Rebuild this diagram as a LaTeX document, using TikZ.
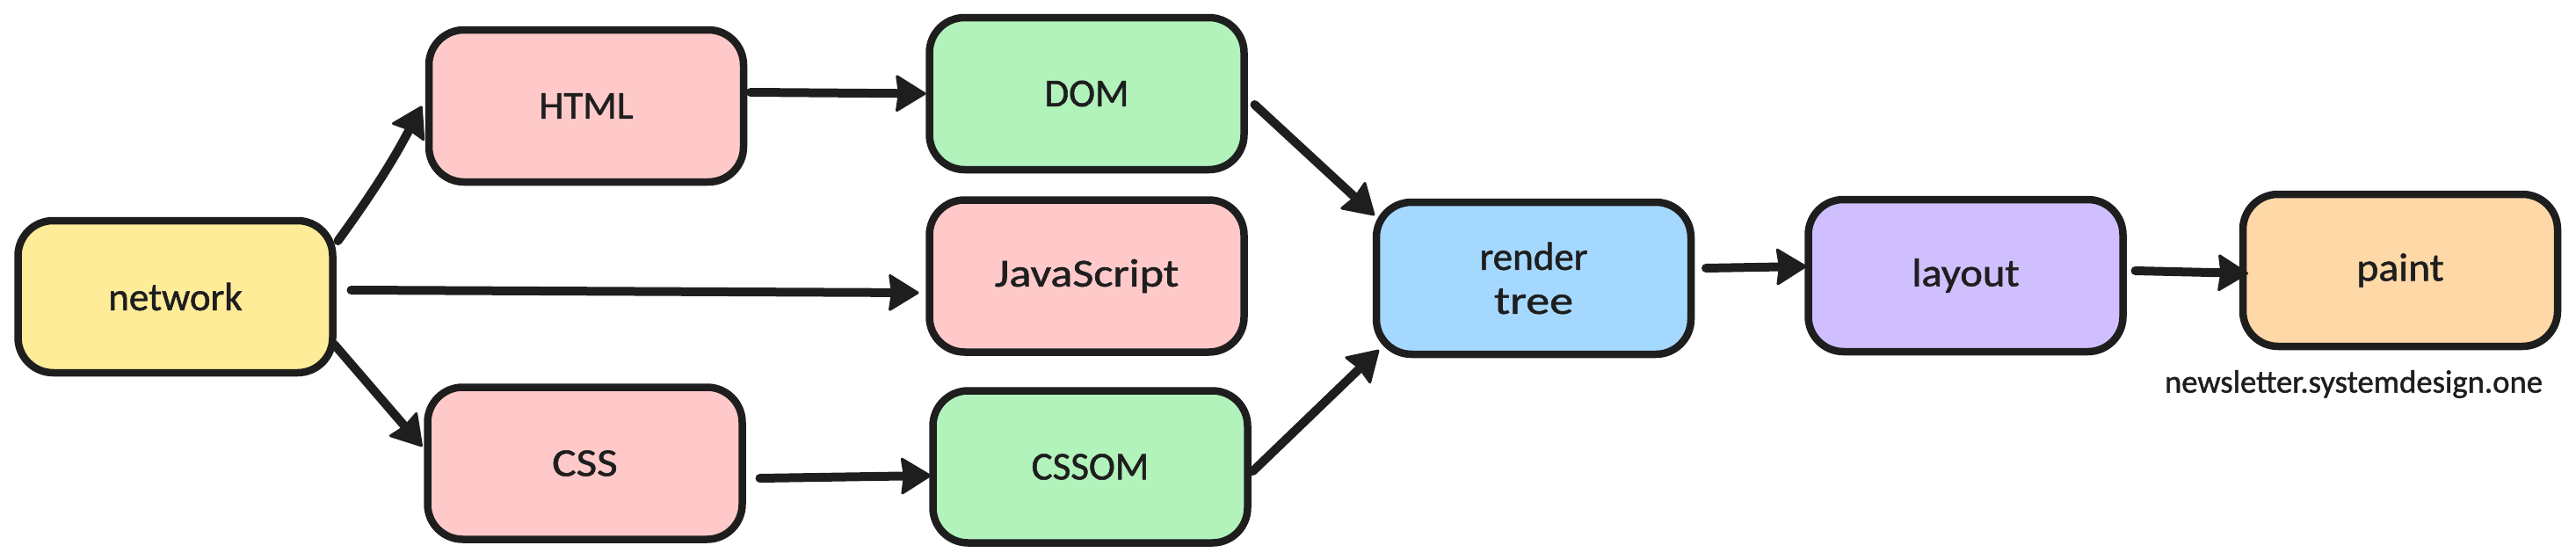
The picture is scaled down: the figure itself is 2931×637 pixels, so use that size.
\documentclass[tikz,border=0pt]{standalone}
\usepackage{fontspec}
\setmainfont{Carlito}[FakeBold=1.2]
\usetikzlibrary{arrows.meta}
\definecolor{ink}{HTML}{1E1E1E}
\definecolor{yel}{HTML}{FFEC99}
\definecolor{pnk}{HTML}{FFC9C9}
\definecolor{grn}{HTML}{B2F2BB}
\definecolor{blu}{HTML}{A5D8FF}
\definecolor{pur}{HTML}{D0BFFF}
\definecolor{org}{HTML}{FFD8A8}
\tikzset{
  stage/.style={draw=ink,line width=8.5pt,rounded corners=40pt,outer sep=0pt,inner sep=0pt,
    minimum width=358pt,minimum height=173pt,align=center,text=ink,
    font=\fontsize{45}{50}\selectfont},
  flow/.style={draw=ink,line width=10pt,line cap=round,
    -{Stealth[length=36pt,width=44pt,inset=3pt,line width=3pt,round]}},
  note/.style={text=ink,inner sep=0pt,font=\fontsize{36.7}{40}\selectfont}
}
\begin{document}
\begin{tikzpicture}[x=1pt,y=-1pt]
\useasboundingbox (0,0) rectangle (2931,637);
\node[stage,fill=yel] (network) at (199.5,337.5) {network};
\node[stage,fill=pnk] (html) at (667,120.5) {HTML};
\node[stage,fill=pnk] (css) at (665.5,527) {\scalebox{1.14}[1]{CSS}};
\node[stage,fill=grn] (dom) at (1236.5,106.5) {DOM};
\node[stage,fill=pnk] (js) at (1236.5,314) {\scalebox{1.16}[1]{JavaScript}};
\node[stage,fill=grn] (cssom) at (1240.5,531) {CSSOM};
\node[stage,fill=blu] (render) at (1745,316.5) {render\\\scalebox{1.2}[1]{tree}};
\node[stage,fill=pur] (layout) at (2236.5,313.5) {\scalebox{1.08}[1]{layout}};
\node[stage,fill=org] (paint) at (2731,307.5) {\scalebox{1.06}[1]{paint}};
\node[note] (credit) at (2678,437) {newsletter.systemdesign.one};
\draw[flow] ([xshift=6pt,yshift=63.5pt]network.east) to[bend right=4] ([xshift=-8pt]html.west);
\draw[flow] ([xshift=21pt,yshift=7.5pt]network.east) -- ([xshift=-12pt,yshift=-19pt]js.west);
\draw[flow] ([xshift=2pt,yshift=-54.5pt]network.east) -- ([xshift=-6pt,yshift=19pt]css.west);
\draw[flow] ([xshift=8pt,yshift=15.5pt]html.east) -- ([xshift=-4pt]dom.west);
\draw[flow] ([xshift=20pt,yshift=-17pt]css.east) -- ([xshift=-2pt,yshift=-10pt]cssom.west);
\draw[flow] ([xshift=12pt,yshift=-12.5pt]dom.east) -- ([xshift=-2pt,yshift=-15pt]render.north west);
\draw[flow] ([xshift=6pt,yshift=-5pt]cssom.east) -- ([xshift=3pt,yshift=5pt]render.south west);
\draw[flow] ([xshift=17pt,yshift=11.5pt]render.east) -- ([xshift=-2pt,yshift=10.5pt]layout.west);
\draw[flow] ([xshift=14pt,yshift=5.5pt]layout.east) -- ([xshift=6pt,yshift=-3.5pt]paint.west);
\end{tikzpicture}
\end{document}
